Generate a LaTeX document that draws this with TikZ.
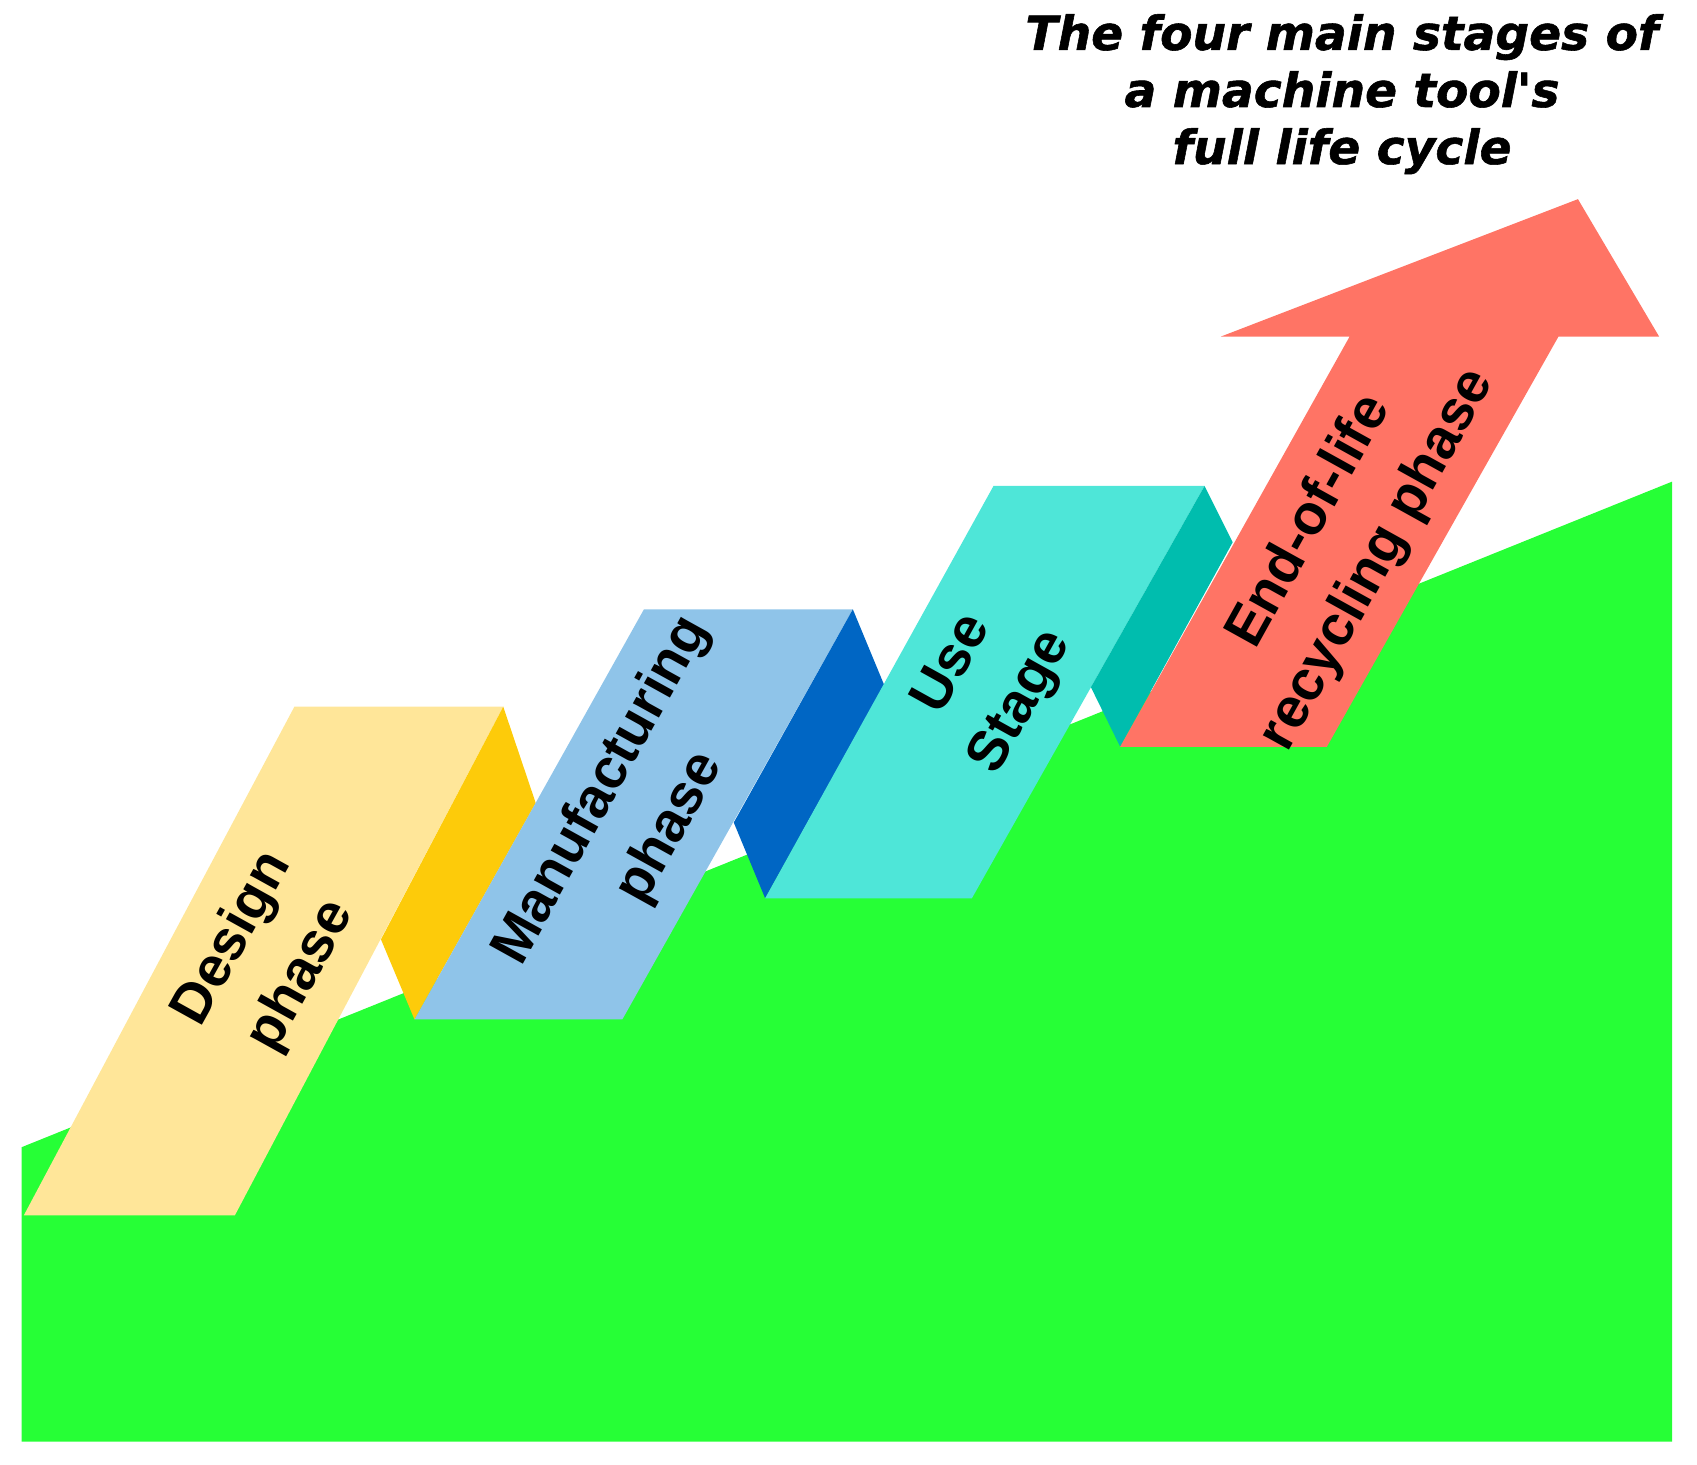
\documentclass[tikz,border=0pt]{standalone}
\usepackage{fontspec}
\setmainfont{Liberation Sans}
\newfontfamily\titlefont{DejaVu Sans}[BoldItalicFeatures={FakeBold=1.2}]

\definecolor{groundgreen}{RGB}{38,255,54}
\definecolor{designyellow}{RGB}{255,230,153}
\definecolor{designfold}{RGB}{253,203,10}
\definecolor{manufblue}{RGB}{143,196,233}
\definecolor{manuffold}{RGB}{0,102,196}
\definecolor{useturq}{RGB}{78,230,216}
\definecolor{usefold}{RGB}{0,189,174}
\definecolor{eolred}{RGB}{255,116,101}

\tikzset{
  stagelabel/.style={rotate=61, align=center, inner sep=0pt,
    font=\fontsize{14.8}{20.5}\selectfont\bfseries},
  titletext/.style={align=center, inner sep=0pt,
    font=\titlefont\fontsize{12.4}{15}\selectfont\bfseries\itshape}
}

\begin{document}
\begin{tikzpicture}[x=0.1mm, y=-0.1mm]
\useasboundingbox (0,0) rectangle (1568,1353);

\def\ya{1123}; \def\yb{942}; \def\yc{830}; \def\yd{690};

\fill[groundgreen] (20,1060) -- (1545,445) -- (1545,1332) -- (20,1332) -- cycle;

\fill[designyellow] (22,\ya) -- (217,\ya) -- (465,653) -- (272,653) -- cycle;
\fill[designfold] (465,653) -- (495,742) -- (383,\yb) -- (352,868) -- cycle;

\fill[manufblue] (383,\yb) -- (575,\yb) -- (788,563) -- (595,563) -- cycle;
\fill[manuffold] (788,563) -- (817,633) -- (707,\yc) -- (678,760) -- cycle;

\fill[useturq] (707,\yc) -- (898,\yc) -- (1113,449) -- (918,449) -- cycle;
\fill[usefold] (1113,449) -- (1139,501) -- (1035,\yd) -- (1008,635) -- cycle;

\fill[eolred] (1035,\yd) -- (1226,\yd) -- (1440,311) -- (1533,311) -- (1458,184)
  -- (1128,311) -- (1247,311) -- cycle;

\node[stagelabel] (design) at (247,885) {Design\\phase};
\node[stagelabel] (manuf) at (588,748) {Manufacturing\\phase};
\node[stagelabel] (use) at (913,632) {Use\\Stage};
\node[stagelabel] (eol) at (1242,500) {End-of-life\\recycling phase};

\node[titletext] (title) at (1240,87) {The four main stages of\\a machine tool\textquotesingle s\\full life cycle};
\end{tikzpicture}
\end{document}
